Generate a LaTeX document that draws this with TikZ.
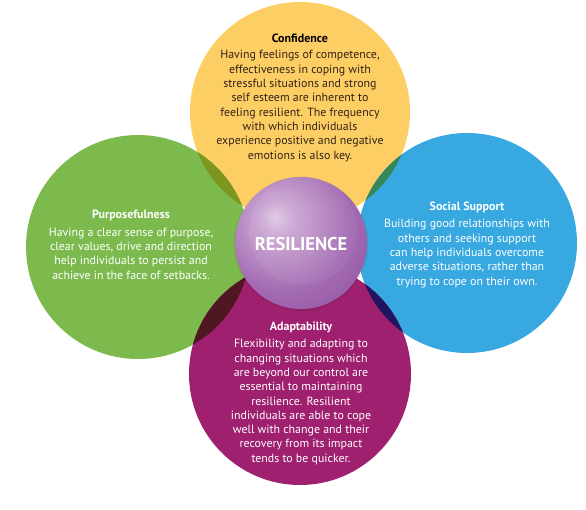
\documentclass[tikz,border=0pt]{standalone}
\usepackage{fontspec}
\setmainfont{PT Sans}
\definecolor{cyel}{RGB}{253,206,100}
\definecolor{cgrn}{RGB}{125,186,78}
\definecolor{cblu}{RGB}{55,168,224}
\definecolor{cmag}{RGB}{158,32,111}
\definecolor{oyg}{RGB}{124,150,31}
\definecolor{oyb}{RGB}{54,135,88}
\definecolor{obm}{RGB}{34,21,96}
\definecolor{omg}{RGB}{78,23,34}
\definecolor{ctxt}{RGB}{50,35,25}
\pgfdeclareradialshading{sphereshade}{\pgfpoint{-10bp}{10bp}}{%
  rgb(0bp)=(0.88,0.79,0.90);
  rgb(6bp)=(0.80,0.66,0.83);
  rgb(25bp)=(0.64,0.42,0.70);
  rgb(45bp)=(0.55,0.30,0.61);
  rgb(62bp)=(0.48,0.23,0.55);
  rgb(80bp)=(0.48,0.23,0.55)}
\tikzset{
  bodytxt/.style={align=center, font=\fontsize{11.9}{14.3}\selectfont},
  titletxt/.style={font=\fontsize{12}{14}\selectfont\bfseries},
}
\begin{document}
\begin{tikzpicture}[x=1pt,y=-1pt]
\useasboundingbox (0,0) rectangle (586,510);
% petals
\coordinate (cY) at (300,112);
\coordinate (cG) at (138,247);
\coordinate (cB) at (467,243);
\coordinate (cM) at (300,374);
\fill[cyel] (cY) circle (110);
\fill[cgrn] (cG) circle (112);
\fill[cblu] (cB) circle (110);
\fill[cmag] (cM) circle (111);
% overlaps
\begin{scope}\clip (cY) circle (110); \fill[oyg] (cG) circle (112);\end{scope}
\begin{scope}\clip (cY) circle (110); \fill[oyb] (cB) circle (110);\end{scope}
\begin{scope}\clip (cM) circle (111); \fill[obm] (cB) circle (110);\end{scope}
\begin{scope}\clip (cM) circle (111); \fill[omg] (cG) circle (112);\end{scope}
% sphere
\fill[black,opacity=0.06] (301,244) circle (67.5);
\shade[shading=sphereshade] (301,243) circle (66);
\begin{scope}
\clip (301,243) circle (66);
\fill[white,opacity=0.05] (303,231) circle (54);
\end{scope}
\node[font=\fontsize{18.5}{21}\selectfont\bfseries, text=white] (res) at (301,244) {RESILIENCE};
% Confidence
\node[titletxt, text=black] (conft) at (300,38) {Confidence};
\node[bodytxt, text=ctxt] (confb) at (300,106) {Having feelings of competence,\\effectiveness in coping with\\stressful situations and strong\\self esteem are inherent to\\feeling resilient. The frequency\\with which individuals\\experience positive and negative\\emotions is also key.};
% Purposefulness
\node[titletxt, text=white] (purpt) at (131,215) {Purposefulness};
\node[bodytxt, text=white] (purpb) at (131,253.5) {Having a clear sense of purpose,\\clear values, drive and direction\\help individuals to persist and\\achieve in the face of setbacks.};
% Social Support
\node[titletxt, text=white] (soct) at (467,207) {Social Support};
\node[bodytxt, text=white] (socb) at (467,253.5) {Building good relationships with\\others and seeking support\\can help individuals overcome\\adverse situations, rather than\\trying to cope on their own.};
% Adaptability
\node[titletxt, text=white] (adapt) at (301,327) {Adaptability};
\node[bodytxt, text=white] (adapb) at (301,402) {Flexibility and adapting to\\changing situations which\\are beyond our control are\\essential to maintaining\\resilience. Resilient\\individuals are able to cope\\well with change and their\\recovery from its impact\\tends to be quicker.};
\end{tikzpicture}
\end{document}
